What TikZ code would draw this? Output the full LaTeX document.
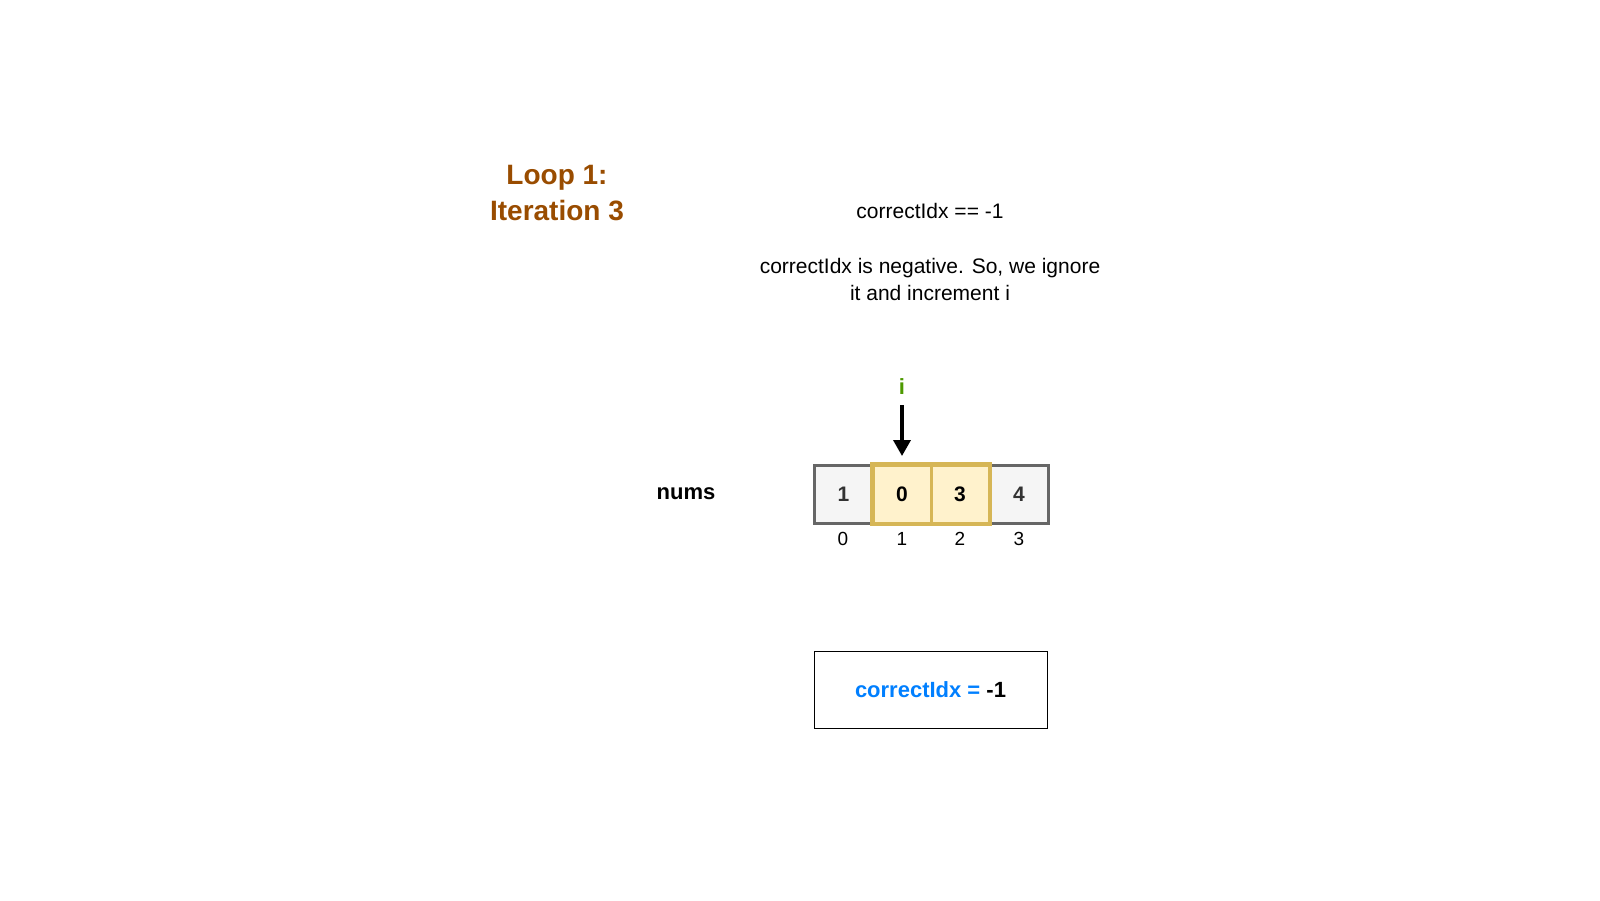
\documentclass[tikz,border=0pt]{standalone}
\usepackage{fontspec}
\setmainfont{Liberation Sans}
\usetikzlibrary{arrows.meta}
\definecolor{brn}{HTML}{994C00}
\definecolor{grn}{HTML}{4D9900}
\definecolor{blu}{HTML}{007FFF}
\definecolor{gfill}{HTML}{F5F5F5}
\definecolor{gline}{HTML}{666666}
\definecolor{yfill}{HTML}{FFF2CC}
\definecolor{yline}{HTML}{D6B656}
\begin{document}
\begin{tikzpicture}[x=1pt,y=-1pt,
  cellg/.style={draw=gline,fill=gfill,line width=3pt,minimum width=58pt,minimum height=58pt,inner sep=0,font=\fontsize{21}{24}\selectfont\bfseries,text=black!80},
  celly/.style={cellg,draw=yline,fill=yfill,text=black},
  idx/.style={font=\fontsize{19}{22}\selectfont},
  txt/.style={font=\fontsize{21}{27}\selectfont,align=center}]
\useasboundingbox (0,0) rectangle (1600,900);
\node[txt,text=brn,font=\fontsize{28}{36}\selectfont\bfseries] (title) at (557,193) {Loop 1:\\Iteration 3};
\node[txt] (t1) at (930,211) {correctIdx == -1};
\node[txt] (t2) at (930,279) {correctIdx is negative. So, we ignore\\it and increment i};
\node[font=\fontsize{22}{26}\selectfont\bfseries] (nums) at (686,494) {nums};
\node[cellg] (c0) at (843.5,494) {1};
\node[celly] (c1) at (902,494) {0};
\node[celly] (c2) at (960,494) {3};
\node[cellg] (c3) at (1019,494) {4};
\draw[yline,line width=3pt] (c1.north west) rectangle (c2.south east);
\node[idx] (i0) at (843,539) {0};
\node[idx] (i1) at (902,539) {1};
\node[idx] (i2) at (960,539) {2};
\node[idx] (i3) at (1019,539) {3};
\node[text=grn,font=\fontsize{22}{26}\selectfont\bfseries] (ilab) at (902,387) {i};
\coordinate (a0) at (902,405);
\coordinate (a1) at (902,456);
\draw[line width=3.5pt,-{Triangle[length=16pt,width=17pt]}] (a0) -- (a1);
\node[draw,line width=1pt,minimum width=233pt,minimum height=77pt,font=\fontsize{22}{26}\selectfont\bfseries] (box) at (930.5,689.5) {\textcolor{blu}{correctIdx =} -1};
\end{tikzpicture}
\end{document}
